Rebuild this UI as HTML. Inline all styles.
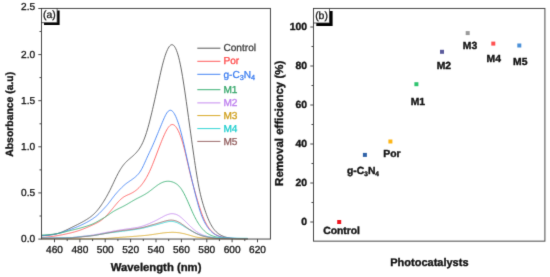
<!DOCTYPE html>
<html lang="en"><head><meta charset="utf-8"><title>UV-vis absorbance and removal efficiency</title>
<style>html,body{margin:0;padding:0;background:#fff}body{width:550px;height:277px;overflow:hidden}svg{display:block}text{font-family:"Liberation Sans",Arial,Helvetica,sans-serif;fill:#141414;text-rendering:geometricPrecision}.t{font-size:10.15px;stroke:#141414;stroke-width:.3px}.tb{font-size:10.35px;font-weight:bold;stroke:#141414;stroke-width:.4px}.ttl{font-size:11px;font-weight:bold;stroke:#141414;stroke-width:.35px}.ax{stroke:#484848;stroke-width:1;fill:none}.cv{fill:none;stroke-width:.9;stroke-linejoin:round}</style></head><body>
<svg width="550" height="277" viewBox="0 0 550 277">
<defs><filter id="soft" x="0" y="0" width="550" height="277" filterUnits="userSpaceOnUse" color-interpolation-filters="sRGB"><feConvolveMatrix order="3" kernelMatrix="0.0113 0.0838 0.0113 0.0838 0.6193 0.0838 0.0113 0.0838 0.0113" edgeMode="duplicate" preserveAlpha="true"/></filter></defs>
<g filter="url(#soft)">
<rect width="550" height="277" fill="#fff"/>
<g id="panel-a">
<clipPath id="ca"><rect x="41.5" y="8.45" width="228.95" height="231.1"/></clipPath>
<g clip-path="url(#ca)">
<path class="cv" stroke="#585858" d="M41.50,235.74 L42.25,235.70 L43.00,235.65 L43.75,235.60 L44.50,235.55 L45.25,235.49 L46.00,235.43 L46.75,235.36 L47.50,235.29 L48.25,235.21 L49.00,235.12 L49.75,235.02 L50.50,234.92 L51.25,234.81 L52.00,234.70 L52.75,234.57 L53.50,234.43 L54.25,234.29 L55.00,234.13 L55.75,233.96 L56.50,233.77 L57.25,233.57 L58.00,233.36 L58.75,233.13 L59.50,232.89 L60.25,232.62 L61.00,232.35 L61.75,232.06 L62.50,231.75 L63.25,231.43 L64.00,231.10 L64.75,230.76 L65.50,230.42 L66.25,230.06 L67.00,229.70 L67.75,229.33 L68.50,228.97 L69.25,228.60 L70.00,228.23 L70.75,227.86 L71.50,227.49 L72.25,227.12 L73.00,226.76 L73.75,226.39 L74.50,226.02 L75.25,225.65 L76.00,225.28 L76.75,224.91 L77.50,224.54 L78.25,224.16 L79.00,223.77 L79.75,223.39 L80.50,222.99 L81.25,222.59 L82.00,222.19 L82.75,221.78 L83.50,221.35 L84.25,220.93 L85.00,220.49 L85.75,220.04 L86.50,219.58 L87.25,219.11 L88.00,218.63 L88.75,218.13 L89.50,217.61 L90.25,217.07 L91.00,216.50 L91.75,215.91 L92.50,215.29 L93.25,214.63 L94.00,213.94 L94.75,213.21 L95.50,212.44 L96.25,211.62 L97.00,210.77 L97.75,209.87 L98.50,208.93 L99.25,207.95 L100.00,206.93 L100.75,205.87 L101.50,204.77 L102.25,203.64 L103.00,202.48 L103.75,201.29 L104.50,200.07 L105.25,198.82 L106.00,197.53 L106.75,196.22 L107.50,194.87 L108.25,193.48 L109.00,192.05 L109.75,190.58 L110.50,189.08 L111.25,187.54 L112.00,185.98 L112.75,184.39 L113.50,182.80 L114.25,181.20 L115.00,179.62 L115.75,178.06 L116.50,176.54 L117.25,175.05 L118.00,173.62 L118.75,172.23 L119.50,170.91 L120.25,169.65 L121.00,168.45 L121.75,167.32 L122.50,166.25 L123.25,165.24 L124.00,164.30 L124.75,163.41 L125.50,162.58 L126.25,161.80 L127.00,161.06 L127.75,160.37 L128.50,159.70 L129.25,159.06 L130.00,158.43 L130.75,157.81 L131.50,157.18 L132.25,156.54 L133.00,155.87 L133.75,155.18 L134.50,154.46 L135.25,153.71 L136.00,152.91 L136.75,152.07 L137.50,151.18 L138.25,150.22 L139.00,149.19 L139.75,148.06 L140.50,146.84 L141.25,145.52 L142.00,144.07 L142.75,142.50 L143.50,140.80 L144.25,138.95 L145.00,136.95 L145.75,134.81 L146.50,132.51 L147.25,130.06 L148.00,127.47 L148.75,124.75 L149.50,121.90 L150.25,118.95 L151.00,115.90 L151.75,112.78 L152.50,109.59 L153.25,106.35 L154.00,103.06 L154.75,99.72 L155.50,96.34 L156.25,92.92 L157.00,89.46 L157.75,85.97 L158.50,82.48 L159.25,78.99 L160.00,75.54 L160.75,72.18 L161.50,68.93 L162.25,65.83 L163.00,62.90 L163.75,60.16 L164.50,57.62 L165.25,55.30 L166.00,53.18 L166.75,51.27 L167.50,49.58 L168.25,48.12 L169.00,46.90 L169.75,45.93 L170.50,45.23 L171.25,44.82 L172.00,44.70 L172.75,44.88 L173.50,45.37 L174.25,46.16 L175.00,47.27 L175.75,48.69 L176.50,50.43 L177.25,52.49 L178.00,54.89 L178.75,57.63 L179.50,60.72 L180.25,64.16 L181.00,67.93 L181.75,72.03 L182.50,76.40 L183.25,81.04 L184.00,85.88 L184.75,90.91 L185.50,96.07 L186.25,101.35 L187.00,106.70 L187.75,112.10 L188.50,117.53 L189.25,122.98 L190.00,128.42 L190.75,133.84 L191.50,139.23 L192.25,144.60 L193.00,149.92 L193.75,155.18 L194.50,160.36 L195.25,165.42 L196.00,170.34 L196.75,175.07 L197.50,179.56 L198.25,183.78 L199.00,187.71 L199.75,191.34 L200.50,194.68 L201.25,197.75 L202.00,200.59 L202.75,203.24 L203.50,205.72 L204.25,208.09 L205.00,210.34 L205.75,212.50 L206.50,214.57 L207.25,216.54 L208.00,218.41 L208.75,220.18 L209.50,221.82 L210.25,223.35 L211.00,224.77 L211.75,226.07 L212.50,227.26 L213.25,228.35 L214.00,229.35 L214.75,230.25 L215.50,231.08 L216.25,231.83 L217.00,232.51 L217.75,233.13 L218.50,233.70 L219.25,234.22 L220.00,234.69 L220.75,235.12 L221.50,235.51 L222.25,235.86 L223.00,236.19 L223.75,236.48 L224.50,236.75 L225.25,236.99 L226.00,237.21 L226.75,237.40 L227.50,237.58 L228.25,237.73 L229.00,237.87 L229.75,237.99 L230.50,238.10 L231.25,238.20 L232.00,238.28 L232.75,238.35 L233.50,238.42 L234.25,238.48 L235.00,238.53 L235.75,238.57 L236.50,238.61 L237.25,238.65 L238.00,238.68 L238.75,238.71 L239.50,238.74 L240.25,238.76 L241.00,238.79 L241.75,238.81 L242.50,238.83 L243.25,238.85 L244.00,238.87 L244.75,238.88 L245.50,238.90 L246.25,238.91 L247.00,238.93 L247.75,238.94"/>
<path class="cv" stroke="#ff5c5c" d="M41.50,237.62 L42.25,237.55 L43.00,237.48 L43.75,237.41 L44.50,237.34 L45.25,237.26 L46.00,237.19 L46.75,237.11 L47.50,237.02 L48.25,236.94 L49.00,236.85 L49.75,236.75 L50.50,236.66 L51.25,236.56 L52.00,236.46 L52.75,236.35 L53.50,236.25 L54.25,236.14 L55.00,236.02 L55.75,235.91 L56.50,235.79 L57.25,235.66 L58.00,235.54 L58.75,235.41 L59.50,235.27 L60.25,235.14 L61.00,235.00 L61.75,234.85 L62.50,234.71 L63.25,234.56 L64.00,234.40 L64.75,234.25 L65.50,234.09 L66.25,233.93 L67.00,233.76 L67.75,233.59 L68.50,233.42 L69.25,233.25 L70.00,233.07 L70.75,232.89 L71.50,232.71 L72.25,232.52 L73.00,232.32 L73.75,232.13 L74.50,231.92 L75.25,231.71 L76.00,231.49 L76.75,231.26 L77.50,231.03 L78.25,230.79 L79.00,230.54 L79.75,230.29 L80.50,230.02 L81.25,229.75 L82.00,229.47 L82.75,229.18 L83.50,228.88 L84.25,228.58 L85.00,228.28 L85.75,227.96 L86.50,227.64 L87.25,227.32 L88.00,227.00 L88.75,226.67 L89.50,226.33 L90.25,226.00 L91.00,225.66 L91.75,225.33 L92.50,224.99 L93.25,224.64 L94.00,224.29 L94.75,223.94 L95.50,223.58 L96.25,223.22 L97.00,222.84 L97.75,222.44 L98.50,222.02 L99.25,221.57 L100.00,221.10 L100.75,220.59 L101.50,220.05 L102.25,219.47 L103.00,218.86 L103.75,218.21 L104.50,217.53 L105.25,216.81 L106.00,216.07 L106.75,215.30 L107.50,214.50 L108.25,213.68 L109.00,212.83 L109.75,211.97 L110.50,211.09 L111.25,210.19 L112.00,209.28 L112.75,208.36 L113.50,207.44 L114.25,206.52 L115.00,205.61 L115.75,204.70 L116.50,203.81 L117.25,202.94 L118.00,202.09 L118.75,201.28 L119.50,200.50 L120.25,199.77 L121.00,199.08 L121.75,198.44 L122.50,197.85 L123.25,197.31 L124.00,196.81 L124.75,196.37 L125.50,195.96 L126.25,195.58 L127.00,195.23 L127.75,194.90 L128.50,194.58 L129.25,194.25 L130.00,193.92 L130.75,193.57 L131.50,193.20 L132.25,192.80 L133.00,192.37 L133.75,191.91 L134.50,191.41 L135.25,190.88 L136.00,190.31 L136.75,189.71 L137.50,189.07 L138.25,188.39 L139.00,187.67 L139.75,186.90 L140.50,186.08 L141.25,185.20 L142.00,184.27 L142.75,183.28 L143.50,182.24 L144.25,181.13 L145.00,179.96 L145.75,178.73 L146.50,177.44 L147.25,176.08 L148.00,174.65 L148.75,173.15 L149.50,171.58 L150.25,169.95 L151.00,168.24 L151.75,166.47 L152.50,164.64 L153.25,162.77 L154.00,160.85 L154.75,158.90 L155.50,156.94 L156.25,154.96 L157.00,152.99 L157.75,151.01 L158.50,149.05 L159.25,147.10 L160.00,145.17 L160.75,143.26 L161.50,141.39 L162.25,139.54 L163.00,137.75 L163.75,136.01 L164.50,134.34 L165.25,132.75 L166.00,131.26 L166.75,129.88 L167.50,128.62 L168.25,127.51 L169.00,126.54 L169.75,125.75 L170.50,125.15 L171.25,124.74 L172.00,124.53 L172.75,124.54 L173.50,124.76 L174.25,125.19 L175.00,125.83 L175.75,126.66 L176.50,127.69 L177.25,128.89 L178.00,130.27 L178.75,131.83 L179.50,133.55 L180.25,135.44 L181.00,137.51 L181.75,139.75 L182.50,142.18 L183.25,144.78 L184.00,147.56 L184.75,150.49 L185.50,153.57 L186.25,156.76 L187.00,160.02 L187.75,163.31 L188.50,166.58 L189.25,169.81 L190.00,172.95 L190.75,176.01 L191.50,178.98 L192.25,181.85 L193.00,184.66 L193.75,187.40 L194.50,190.10 L195.25,192.76 L196.00,195.38 L196.75,197.96 L197.50,200.49 L198.25,202.98 L199.00,205.41 L199.75,207.76 L200.50,210.04 L201.25,212.21 L202.00,214.28 L202.75,216.23 L203.50,218.07 L204.25,219.79 L205.00,221.38 L205.75,222.87 L206.50,224.25 L207.25,225.53 L208.00,226.72 L208.75,227.82 L209.50,228.84 L210.25,229.78 L211.00,230.64 L211.75,231.44 L212.50,232.16 L213.25,232.82 L214.00,233.43 L214.75,233.97 L215.50,234.47 L216.25,234.92 L217.00,235.32 L217.75,235.68 L218.50,236.01 L219.25,236.31 L220.00,236.57 L220.75,236.81 L221.50,237.02 L222.25,237.21 L223.00,237.38 L223.75,237.54 L224.50,237.68 L225.25,237.81 L226.00,237.92 L226.75,238.02 L227.50,238.11 L228.25,238.20 L229.00,238.27 L229.75,238.34 L230.50,238.40 L231.25,238.45 L232.00,238.50 L232.75,238.54 L233.50,238.58 L234.25,238.61 L235.00,238.64 L235.75,238.67 L236.50,238.69 L237.25,238.71 L238.00,238.73 L238.75,238.75 L239.50,238.77 L240.25,238.78 L241.00,238.80 L241.75,238.81 L242.50,238.82 L243.25,238.83 L244.00,238.84 L244.75,238.85 L245.50,238.86 L246.25,238.87 L247.00,238.88 L247.75,238.88"/>
<path class="cv" stroke="#4585f5" d="M41.50,235.66 L42.25,235.61 L43.00,235.57 L43.75,235.52 L44.50,235.47 L45.25,235.42 L46.00,235.36 L46.75,235.30 L47.50,235.23 L48.25,235.16 L49.00,235.08 L49.75,234.99 L50.50,234.90 L51.25,234.80 L52.00,234.69 L52.75,234.58 L53.50,234.46 L54.25,234.33 L55.00,234.19 L55.75,234.05 L56.50,233.89 L57.25,233.73 L58.00,233.55 L58.75,233.36 L59.50,233.17 L60.25,232.96 L61.00,232.74 L61.75,232.51 L62.50,232.27 L63.25,232.02 L64.00,231.76 L64.75,231.50 L65.50,231.23 L66.25,230.96 L67.00,230.69 L67.75,230.42 L68.50,230.14 L69.25,229.86 L70.00,229.59 L70.75,229.31 L71.50,229.03 L72.25,228.75 L73.00,228.47 L73.75,228.18 L74.50,227.89 L75.25,227.60 L76.00,227.31 L76.75,227.01 L77.50,226.70 L78.25,226.39 L79.00,226.07 L79.75,225.74 L80.50,225.41 L81.25,225.07 L82.00,224.72 L82.75,224.36 L83.50,224.00 L84.25,223.62 L85.00,223.24 L85.75,222.85 L86.50,222.46 L87.25,222.05 L88.00,221.63 L88.75,221.21 L89.50,220.77 L90.25,220.33 L91.00,219.87 L91.75,219.39 L92.50,218.90 L93.25,218.40 L94.00,217.87 L94.75,217.33 L95.50,216.75 L96.25,216.16 L97.00,215.53 L97.75,214.86 L98.50,214.17 L99.25,213.45 L100.00,212.70 L100.75,211.94 L101.50,211.16 L102.25,210.38 L103.00,209.59 L103.75,208.80 L104.50,208.01 L105.25,207.20 L106.00,206.38 L106.75,205.53 L107.50,204.65 L108.25,203.73 L109.00,202.78 L109.75,201.79 L110.50,200.79 L111.25,199.77 L112.00,198.76 L112.75,197.76 L113.50,196.77 L114.25,195.81 L115.00,194.88 L115.75,193.98 L116.50,193.10 L117.25,192.25 L118.00,191.41 L118.75,190.60 L119.50,189.79 L120.25,189.01 L121.00,188.24 L121.75,187.49 L122.50,186.76 L123.25,186.06 L124.00,185.38 L124.75,184.74 L125.50,184.12 L126.25,183.53 L127.00,182.97 L127.75,182.43 L128.50,181.91 L129.25,181.40 L130.00,180.89 L130.75,180.39 L131.50,179.87 L132.25,179.34 L133.00,178.79 L133.75,178.22 L134.50,177.63 L135.25,177.01 L136.00,176.35 L136.75,175.66 L137.50,174.91 L138.25,174.10 L139.00,173.20 L139.75,172.21 L140.50,171.09 L141.25,169.85 L142.00,168.49 L142.75,167.01 L143.50,165.44 L144.25,163.80 L145.00,162.12 L145.75,160.43 L146.50,158.75 L147.25,157.10 L148.00,155.48 L148.75,153.88 L149.50,152.30 L150.25,150.72 L151.00,149.13 L151.75,147.51 L152.50,145.86 L153.25,144.17 L154.00,142.43 L154.75,140.66 L155.50,138.86 L156.25,137.04 L157.00,135.22 L157.75,133.40 L158.50,131.59 L159.25,129.78 L160.00,127.98 L160.75,126.17 L161.50,124.36 L162.25,122.55 L163.00,120.76 L163.75,119.01 L164.50,117.33 L165.25,115.75 L166.00,114.32 L166.75,113.07 L167.50,112.03 L168.25,111.22 L169.00,110.64 L169.75,110.32 L170.50,110.25 L171.25,110.43 L172.00,110.87 L172.75,111.54 L173.50,112.46 L174.25,113.61 L175.00,114.97 L175.75,116.53 L176.50,118.27 L177.25,120.19 L178.00,122.27 L178.75,124.51 L179.50,126.92 L180.25,129.49 L181.00,132.24 L181.75,135.15 L182.50,138.23 L183.25,141.44 L184.00,144.77 L184.75,148.17 L185.50,151.61 L186.25,155.06 L187.00,158.50 L187.75,161.89 L188.50,165.25 L189.25,168.55 L190.00,171.82 L190.75,175.05 L191.50,178.25 L192.25,181.42 L193.00,184.57 L193.75,187.68 L194.50,190.77 L195.25,193.81 L196.00,196.80 L196.75,199.70 L197.50,202.51 L198.25,205.21 L199.00,207.78 L199.75,210.20 L200.50,212.47 L201.25,214.59 L202.00,216.55 L202.75,218.36 L203.50,220.04 L204.25,221.59 L205.00,223.03 L205.75,224.36 L206.50,225.59 L207.25,226.74 L208.00,227.80 L208.75,228.79 L209.50,229.70 L210.25,230.54 L211.00,231.31 L211.75,232.02 L212.50,232.66 L213.25,233.25 L214.00,233.78 L214.75,234.26 L215.50,234.70 L216.25,235.09 L217.00,235.45 L217.75,235.77 L218.50,236.05 L219.25,236.31 L220.00,236.54 L220.75,236.75 L221.50,236.94 L222.25,237.10 L223.00,237.25 L223.75,237.39 L224.50,237.51 L225.25,237.62 L226.00,237.71 L226.75,237.80 L227.50,237.88 L228.25,237.95 L229.00,238.02 L229.75,238.07 L230.50,238.13 L231.25,238.17 L232.00,238.21 L232.75,238.25 L233.50,238.28 L234.25,238.31 L235.00,238.34 L235.75,238.37 L236.50,238.39 L237.25,238.41 L238.00,238.43 L238.75,238.45 L239.50,238.47 L240.25,238.48 L241.00,238.50 L241.75,238.51 L242.50,238.53 L243.25,238.54 L244.00,238.55 L244.75,238.56 L245.50,238.57 L246.25,238.58 L247.00,238.59 L247.75,238.60"/>
<path class="cv" stroke="#3bb074" d="M41.50,235.07 L42.25,235.04 L43.00,235.00 L43.75,234.96 L44.50,234.93 L45.25,234.89 L46.00,234.84 L46.75,234.80 L47.50,234.75 L48.25,234.70 L49.00,234.64 L49.75,234.57 L50.50,234.50 L51.25,234.43 L52.00,234.35 L52.75,234.26 L53.50,234.17 L54.25,234.08 L55.00,233.97 L55.75,233.86 L56.50,233.75 L57.25,233.62 L58.00,233.49 L58.75,233.35 L59.50,233.20 L60.25,233.04 L61.00,232.87 L61.75,232.69 L62.50,232.51 L63.25,232.32 L64.00,232.13 L64.75,231.94 L65.50,231.75 L66.25,231.55 L67.00,231.36 L67.75,231.17 L68.50,230.98 L69.25,230.79 L70.00,230.61 L70.75,230.43 L71.50,230.25 L72.25,230.07 L73.00,229.89 L73.75,229.71 L74.50,229.53 L75.25,229.35 L76.00,229.17 L76.75,228.98 L77.50,228.79 L78.25,228.59 L79.00,228.39 L79.75,228.19 L80.50,227.99 L81.25,227.78 L82.00,227.56 L82.75,227.35 L83.50,227.13 L84.25,226.90 L85.00,226.68 L85.75,226.44 L86.50,226.21 L87.25,225.97 L88.00,225.72 L88.75,225.47 L89.50,225.20 L90.25,224.93 L91.00,224.65 L91.75,224.35 L92.50,224.04 L93.25,223.71 L94.00,223.36 L94.75,222.99 L95.50,222.60 L96.25,222.19 L97.00,221.77 L97.75,221.35 L98.50,220.92 L99.25,220.49 L100.00,220.07 L100.75,219.65 L101.50,219.23 L102.25,218.81 L103.00,218.39 L103.75,217.96 L104.50,217.51 L105.25,217.04 L106.00,216.56 L106.75,216.05 L107.50,215.53 L108.25,215.00 L109.00,214.47 L109.75,213.93 L110.50,213.40 L111.25,212.88 L112.00,212.37 L112.75,211.88 L113.50,211.41 L114.25,210.96 L115.00,210.52 L115.75,210.11 L116.50,209.71 L117.25,209.32 L118.00,208.94 L118.75,208.57 L119.50,208.20 L120.25,207.84 L121.00,207.47 L121.75,207.10 L122.50,206.73 L123.25,206.35 L124.00,205.95 L124.75,205.55 L125.50,205.14 L126.25,204.72 L127.00,204.29 L127.75,203.85 L128.50,203.40 L129.25,202.95 L130.00,202.50 L130.75,202.05 L131.50,201.60 L132.25,201.16 L133.00,200.72 L133.75,200.29 L134.50,199.86 L135.25,199.45 L136.00,199.05 L136.75,198.65 L137.50,198.26 L138.25,197.88 L139.00,197.50 L139.75,197.12 L140.50,196.75 L141.25,196.37 L142.00,195.98 L142.75,195.58 L143.50,195.18 L144.25,194.75 L145.00,194.32 L145.75,193.86 L146.50,193.39 L147.25,192.90 L148.00,192.39 L148.75,191.86 L149.50,191.31 L150.25,190.75 L151.00,190.17 L151.75,189.59 L152.50,189.00 L153.25,188.40 L154.00,187.81 L154.75,187.22 L155.50,186.65 L156.25,186.08 L157.00,185.54 L157.75,185.02 L158.50,184.52 L159.25,184.04 L160.00,183.60 L160.75,183.19 L161.50,182.82 L162.25,182.48 L163.00,182.18 L163.75,181.92 L164.50,181.70 L165.25,181.52 L166.00,181.39 L166.75,181.30 L167.50,181.25 L168.25,181.24 L169.00,181.28 L169.75,181.35 L170.50,181.47 L171.25,181.63 L172.00,181.82 L172.75,182.07 L173.50,182.35 L174.25,182.68 L175.00,183.06 L175.75,183.49 L176.50,183.98 L177.25,184.53 L178.00,185.16 L178.75,185.87 L179.50,186.68 L180.25,187.57 L181.00,188.57 L181.75,189.66 L182.50,190.86 L183.25,192.15 L184.00,193.53 L184.75,194.99 L185.50,196.52 L186.25,198.10 L187.00,199.74 L187.75,201.42 L188.50,203.12 L189.25,204.84 L190.00,206.56 L190.75,208.29 L191.50,209.99 L192.25,211.67 L193.00,213.31 L193.75,214.90 L194.50,216.44 L195.25,217.92 L196.00,219.34 L196.75,220.70 L197.50,221.98 L198.25,223.21 L199.00,224.37 L199.75,225.47 L200.50,226.51 L201.25,227.49 L202.00,228.41 L202.75,229.27 L203.50,230.07 L204.25,230.82 L205.00,231.52 L205.75,232.16 L206.50,232.75 L207.25,233.29 L208.00,233.79 L208.75,234.24 L209.50,234.64 L210.25,235.01 L211.00,235.35 L211.75,235.65 L212.50,235.92 L213.25,236.17 L214.00,236.40 L214.75,236.60 L215.50,236.79 L216.25,236.96 L217.00,237.12 L217.75,237.27 L218.50,237.40 L219.25,237.53 L220.00,237.64 L220.75,237.75 L221.50,237.85 L222.25,237.95 L223.00,238.03 L223.75,238.11 L224.50,238.19 L225.25,238.25 L226.00,238.31 L226.75,238.37 L227.50,238.42 L228.25,238.47 L229.00,238.51 L229.75,238.55 L230.50,238.59 L231.25,238.62 L232.00,238.65 L232.75,238.68 L233.50,238.71 L234.25,238.73 L235.00,238.76 L235.75,238.78 L236.50,238.80 L237.25,238.81 L238.00,238.83 L238.75,238.84 L239.50,238.85 L240.25,238.86 L241.00,238.87 L241.75,238.88 L242.50,238.89 L243.25,238.89 L244.00,238.90 L244.75,238.90 L245.50,238.90 L246.25,238.91 L247.00,238.91 L247.75,238.91"/>
<path class="cv" stroke="#c68cf0" d="M41.5,238.0 L42.5,238.0 L43.5,238.0 L44.5,238.0 L45.5,238.0 L46.5,238.0 L47.5,238.0 L48.5,238.0 L49.5,238.0 L50.5,238.0 L51.5,238.0 L52.5,238.0 L53.5,237.9 L54.5,237.9 L55.5,237.9 L56.5,237.9 L57.5,237.9 L58.5,237.9 L59.5,237.9 L60.5,237.9 L61.5,237.9 L62.5,237.8 L63.5,237.8 L64.5,237.8 L65.5,237.8 L66.5,237.8 L67.5,237.7 L68.5,237.7 L69.5,237.7 L70.5,237.6 L71.5,237.6 L72.5,237.5 L73.5,237.4 L74.5,237.3 L75.5,237.2 L76.5,237.1 L77.5,236.9 L78.5,236.8 L79.5,236.7 L80.5,236.6 L81.5,236.4 L82.5,236.3 L83.5,236.2 L84.5,236.1 L85.5,236.0 L86.5,235.9 L87.5,235.8 L88.5,235.6 L89.5,235.5 L90.5,235.4 L91.5,235.2 L92.5,235.1 L93.5,234.9 L94.5,234.8 L95.5,234.6 L96.5,234.4 L97.5,234.2 L98.5,234.0 L99.5,233.8 L100.5,233.6 L101.5,233.4 L102.5,233.2 L103.5,233.0 L104.5,232.8 L105.5,232.6 L106.5,232.4 L107.5,232.2 L108.5,232.0 L109.5,231.9 L110.5,231.7 L111.5,231.5 L112.5,231.3 L113.5,231.1 L114.5,230.9 L115.5,230.8 L116.5,230.6 L117.5,230.4 L118.5,230.3 L119.5,230.1 L120.5,229.9 L121.5,229.8 L122.5,229.6 L123.5,229.5 L124.5,229.3 L125.5,229.2 L126.5,229.0 L127.5,228.9 L128.5,228.8 L129.5,228.6 L130.5,228.5 L131.5,228.3 L132.5,228.2 L133.5,228.0 L134.5,227.9 L135.5,227.7 L136.5,227.5 L137.5,227.4 L138.5,227.2 L139.5,226.9 L140.5,226.7 L141.5,226.4 L142.5,226.1 L143.5,225.8 L144.5,225.4 L145.5,225.1 L146.5,224.7 L147.5,224.3 L148.5,223.9 L149.5,223.5 L150.5,223.0 L151.5,222.6 L152.5,222.1 L153.5,221.7 L154.5,221.2 L155.5,220.7 L156.5,220.2 L157.5,219.7 L158.5,219.1 L159.5,218.6 L160.5,218.0 L161.5,217.5 L162.5,217.0 L163.5,216.4 L164.5,215.9 L165.5,215.4 L166.5,215.0 L167.5,214.6 L168.5,214.3 L169.5,214.0 L170.5,213.8 L171.5,213.7 L172.5,213.7 L173.5,213.8 L174.5,214.0 L175.5,214.2 L176.5,214.6 L177.5,215.0 L178.5,215.6 L179.5,216.2 L180.5,217.0 L181.5,217.8 L182.5,218.7 L183.5,219.6 L184.5,220.5 L185.5,221.5 L186.5,222.5 L187.5,223.5 L188.5,224.5 L189.5,225.5 L190.5,226.5 L191.5,227.4 L192.5,228.3 L193.5,229.2 L194.5,230.0 L195.5,230.8 L196.5,231.5 L197.5,232.2 L198.5,232.8 L199.5,233.4 L200.5,233.9 L201.5,234.4 L202.5,234.9 L203.5,235.3 L204.5,235.6 L205.5,235.9 L206.5,236.2 L207.5,236.5 L208.5,236.8 L209.5,237.0 L210.5,237.2 L211.5,237.4 L212.5,237.5 L213.5,237.7 L214.5,237.8 L215.5,238.0 L216.5,238.1 L217.5,238.2 L218.5,238.2 L219.5,238.3 L220.5,238.3 L221.5,238.4 L222.5,238.4 L223.5,238.4 L224.5,238.4 L225.5,238.5 L226.5,238.5 L227.5,238.5 L228.5,238.5 L229.5,238.5 L230.5,238.6 L231.5,238.6 L232.5,238.6 L233.5,238.6 L234.5,238.6 L235.5,238.6 L236.5,238.6 L237.5,238.6 L238.5,238.7 L239.5,238.7 L240.5,238.7 L241.5,238.7 L242.5,238.7 L243.5,238.7 L244.5,238.7 L245.5,238.7 L246.5,238.7 L247.5,238.7"/>
<path class="cv" stroke="#d9a926" d="M41.5,238.9 L42.5,238.9 L43.5,238.9 L44.5,238.9 L45.5,238.9 L46.5,238.9 L47.5,238.9 L48.5,238.9 L49.5,238.9 L50.5,238.9 L51.5,238.9 L52.5,238.9 L53.5,238.9 L54.5,238.9 L55.5,238.9 L56.5,238.9 L57.5,238.9 L58.5,238.9 L59.5,238.9 L60.5,238.9 L61.5,238.9 L62.5,238.9 L63.5,238.9 L64.5,238.9 L65.5,238.9 L66.5,238.9 L67.5,238.9 L68.5,238.9 L69.5,238.9 L70.5,238.9 L71.5,238.9 L72.5,238.9 L73.5,238.9 L74.5,238.9 L75.5,238.9 L76.5,238.9 L77.5,238.9 L78.5,238.9 L79.5,238.9 L80.5,238.9 L81.5,238.9 L82.5,238.9 L83.5,238.9 L84.5,238.9 L85.5,238.9 L86.5,238.9 L87.5,238.9 L88.5,238.9 L89.5,238.9 L90.5,238.8 L91.5,238.8 L92.5,238.8 L93.5,238.8 L94.5,238.8 L95.5,238.8 L96.5,238.7 L97.5,238.7 L98.5,238.7 L99.5,238.7 L100.5,238.6 L101.5,238.6 L102.5,238.6 L103.5,238.6 L104.5,238.5 L105.5,238.5 L106.5,238.4 L107.5,238.4 L108.5,238.3 L109.5,238.2 L110.5,238.2 L111.5,238.1 L112.5,238.0 L113.5,237.9 L114.5,237.8 L115.5,237.7 L116.5,237.6 L117.5,237.6 L118.5,237.5 L119.5,237.4 L120.5,237.3 L121.5,237.3 L122.5,237.2 L123.5,237.1 L124.5,237.1 L125.5,237.0 L126.5,236.9 L127.5,236.8 L128.5,236.8 L129.5,236.7 L130.5,236.6 L131.5,236.6 L132.5,236.5 L133.5,236.4 L134.5,236.3 L135.5,236.3 L136.5,236.2 L137.5,236.1 L138.5,236.0 L139.5,235.9 L140.5,235.9 L141.5,235.8 L142.5,235.7 L143.5,235.6 L144.5,235.5 L145.5,235.4 L146.5,235.3 L147.5,235.2 L148.5,235.1 L149.5,234.9 L150.5,234.8 L151.5,234.7 L152.5,234.5 L153.5,234.4 L154.5,234.2 L155.5,234.1 L156.5,233.9 L157.5,233.8 L158.5,233.6 L159.5,233.5 L160.5,233.3 L161.5,233.2 L162.5,233.0 L163.5,232.9 L164.5,232.8 L165.5,232.7 L166.5,232.6 L167.5,232.5 L168.5,232.5 L169.5,232.4 L170.5,232.4 L171.5,232.3 L172.5,232.3 L173.5,232.3 L174.5,232.4 L175.5,232.4 L176.5,232.5 L177.5,232.6 L178.5,232.7 L179.5,232.8 L180.5,233.0 L181.5,233.2 L182.5,233.4 L183.5,233.6 L184.5,233.8 L185.5,234.1 L186.5,234.4 L187.5,234.6 L188.5,234.9 L189.5,235.2 L190.5,235.5 L191.5,235.8 L192.5,236.1 L193.5,236.4 L194.5,236.6 L195.5,236.9 L196.5,237.1 L197.5,237.3 L198.5,237.4 L199.5,237.6 L200.5,237.7 L201.5,237.8 L202.5,237.9 L203.5,238.0 L204.5,238.1 L205.5,238.2 L206.5,238.3 L207.5,238.3 L208.5,238.4 L209.5,238.4 L210.5,238.5 L211.5,238.5 L212.5,238.6 L213.5,238.6 L214.5,238.6 L215.5,238.6 L216.5,238.7 L217.5,238.7 L218.5,238.7 L219.5,238.7 L220.5,238.7 L221.5,238.7 L222.5,238.7 L223.5,238.8 L224.5,238.8 L225.5,238.8 L226.5,238.8 L227.5,238.8 L228.5,238.8 L229.5,238.8 L230.5,238.8 L231.5,238.8 L232.5,238.8 L233.5,238.8 L234.5,238.9 L235.5,238.9 L236.5,238.9 L237.5,238.9 L238.5,238.9 L239.5,238.9 L240.5,238.9 L241.5,238.9 L242.5,238.9 L243.5,238.9 L244.5,238.9 L245.5,238.9 L246.5,238.9 L247.5,238.9"/>
<path class="cv" stroke="#35d6d6" d="M41.5,237.9 L42.5,237.9 L43.5,237.9 L44.5,237.9 L45.5,237.9 L46.5,237.9 L47.5,237.9 L48.5,237.9 L49.5,237.9 L50.5,237.9 L51.5,237.9 L52.5,237.9 L53.5,237.9 L54.5,237.9 L55.5,237.9 L56.5,237.8 L57.5,237.8 L58.5,237.8 L59.5,237.8 L60.5,237.8 L61.5,237.8 L62.5,237.8 L63.5,237.8 L64.5,237.8 L65.5,237.8 L66.5,237.7 L67.5,237.7 L68.5,237.7 L69.5,237.7 L70.5,237.6 L71.5,237.6 L72.5,237.5 L73.5,237.4 L74.5,237.3 L75.5,237.2 L76.5,237.1 L77.5,237.0 L78.5,236.9 L79.5,236.8 L80.5,236.7 L81.5,236.6 L82.5,236.5 L83.5,236.4 L84.5,236.3 L85.5,236.2 L86.5,236.2 L87.5,236.1 L88.5,236.0 L89.5,235.9 L90.5,235.8 L91.5,235.7 L92.5,235.6 L93.5,235.5 L94.5,235.3 L95.5,235.2 L96.5,235.0 L97.5,234.8 L98.5,234.7 L99.5,234.5 L100.5,234.3 L101.5,234.1 L102.5,233.9 L103.5,233.8 L104.5,233.6 L105.5,233.4 L106.5,233.3 L107.5,233.1 L108.5,233.0 L109.5,232.9 L110.5,232.7 L111.5,232.6 L112.5,232.5 L113.5,232.4 L114.5,232.3 L115.5,232.1 L116.5,232.0 L117.5,231.9 L118.5,231.8 L119.5,231.6 L120.5,231.5 L121.5,231.4 L122.5,231.2 L123.5,231.1 L124.5,231.0 L125.5,230.8 L126.5,230.7 L127.5,230.6 L128.5,230.4 L129.5,230.3 L130.5,230.2 L131.5,230.0 L132.5,229.9 L133.5,229.7 L134.5,229.6 L135.5,229.4 L136.5,229.3 L137.5,229.1 L138.5,228.9 L139.5,228.8 L140.5,228.6 L141.5,228.4 L142.5,228.2 L143.5,228.0 L144.5,227.7 L145.5,227.5 L146.5,227.2 L147.5,227.0 L148.5,226.7 L149.5,226.5 L150.5,226.2 L151.5,226.0 L152.5,225.7 L153.5,225.5 L154.5,225.2 L155.5,225.0 L156.5,224.7 L157.5,224.5 L158.5,224.2 L159.5,223.9 L160.5,223.6 L161.5,223.3 L162.5,223.1 L163.5,222.8 L164.5,222.5 L165.5,222.2 L166.5,222.0 L167.5,221.8 L168.5,221.6 L169.5,221.5 L170.5,221.4 L171.5,221.4 L172.5,221.5 L173.5,221.6 L174.5,221.8 L175.5,222.1 L176.5,222.4 L177.5,222.8 L178.5,223.3 L179.5,223.8 L180.5,224.3 L181.5,224.9 L182.5,225.5 L183.5,226.1 L184.5,226.7 L185.5,227.3 L186.5,227.9 L187.5,228.5 L188.5,229.1 L189.5,229.7 L190.5,230.3 L191.5,230.8 L192.5,231.4 L193.5,231.9 L194.5,232.4 L195.5,232.9 L196.5,233.4 L197.5,233.8 L198.5,234.2 L199.5,234.6 L200.5,235.0 L201.5,235.3 L202.5,235.6 L203.5,235.9 L204.5,236.1 L205.5,236.3 L206.5,236.5 L207.5,236.7 L208.5,236.9 L209.5,237.0 L210.5,237.2 L211.5,237.3 L212.5,237.4 L213.5,237.6 L214.5,237.7 L215.5,237.7 L216.5,237.8 L217.5,237.9 L218.5,237.9 L219.5,238.0 L220.5,238.0 L221.5,238.0 L222.5,238.1 L223.5,238.1 L224.5,238.1 L225.5,238.1 L226.5,238.1 L227.5,238.2 L228.5,238.2 L229.5,238.2 L230.5,238.2 L231.5,238.2 L232.5,238.2 L233.5,238.2 L234.5,238.2 L235.5,238.2 L236.5,238.3 L237.5,238.3 L238.5,238.3 L239.5,238.3 L240.5,238.3 L241.5,238.3 L242.5,238.3 L243.5,238.3 L244.5,238.3 L245.5,238.3 L246.5,238.3 L247.5,238.3"/>
<path class="cv" stroke="#9c6b6b" d="M41.5,238.3 L42.5,238.3 L43.5,238.3 L44.5,238.3 L45.5,238.3 L46.5,238.3 L47.5,238.3 L48.5,238.3 L49.5,238.3 L50.5,238.3 L51.5,238.3 L52.5,238.3 L53.5,238.3 L54.5,238.3 L55.5,238.3 L56.5,238.2 L57.5,238.2 L58.5,238.2 L59.5,238.2 L60.5,238.2 L61.5,238.2 L62.5,238.2 L63.5,238.2 L64.5,238.2 L65.5,238.2 L66.5,238.1 L67.5,238.1 L68.5,238.1 L69.5,238.1 L70.5,238.0 L71.5,238.0 L72.5,237.9 L73.5,237.8 L74.5,237.7 L75.5,237.6 L76.5,237.5 L77.5,237.4 L78.5,237.3 L79.5,237.2 L80.5,237.1 L81.5,237.0 L82.5,236.8 L83.5,236.7 L84.5,236.6 L85.5,236.5 L86.5,236.4 L87.5,236.3 L88.5,236.2 L89.5,236.1 L90.5,236.0 L91.5,235.8 L92.5,235.7 L93.5,235.6 L94.5,235.4 L95.5,235.2 L96.5,235.1 L97.5,234.9 L98.5,234.7 L99.5,234.5 L100.5,234.3 L101.5,234.2 L102.5,234.0 L103.5,233.8 L104.5,233.6 L105.5,233.4 L106.5,233.2 L107.5,233.0 L108.5,232.8 L109.5,232.6 L110.5,232.5 L111.5,232.3 L112.5,232.1 L113.5,231.9 L114.5,231.7 L115.5,231.6 L116.5,231.4 L117.5,231.2 L118.5,231.1 L119.5,230.9 L120.5,230.8 L121.5,230.7 L122.5,230.5 L123.5,230.4 L124.5,230.3 L125.5,230.2 L126.5,230.1 L127.5,229.9 L128.5,229.8 L129.5,229.7 L130.5,229.5 L131.5,229.4 L132.5,229.3 L133.5,229.1 L134.5,229.0 L135.5,228.8 L136.5,228.6 L137.5,228.5 L138.5,228.3 L139.5,228.1 L140.5,227.9 L141.5,227.7 L142.5,227.5 L143.5,227.3 L144.5,227.0 L145.5,226.7 L146.5,226.5 L147.5,226.2 L148.5,225.9 L149.5,225.6 L150.5,225.3 L151.5,225.0 L152.5,224.7 L153.5,224.5 L154.5,224.2 L155.5,223.9 L156.5,223.6 L157.5,223.3 L158.5,223.0 L159.5,222.7 L160.5,222.4 L161.5,222.1 L162.5,221.8 L163.5,221.5 L164.5,221.2 L165.5,221.0 L166.5,220.7 L167.5,220.5 L168.5,220.3 L169.5,220.2 L170.5,220.1 L171.5,220.1 L172.5,220.2 L173.5,220.3 L174.5,220.5 L175.5,220.8 L176.5,221.1 L177.5,221.5 L178.5,222.0 L179.5,222.5 L180.5,223.1 L181.5,223.8 L182.5,224.5 L183.5,225.2 L184.5,225.9 L185.5,226.6 L186.5,227.4 L187.5,228.1 L188.5,228.8 L189.5,229.5 L190.5,230.1 L191.5,230.8 L192.5,231.4 L193.5,232.0 L194.5,232.6 L195.5,233.1 L196.5,233.6 L197.5,234.1 L198.5,234.5 L199.5,234.9 L200.5,235.3 L201.5,235.7 L202.5,236.0 L203.5,236.3 L204.5,236.5 L205.5,236.8 L206.5,237.0 L207.5,237.2 L208.5,237.4 L209.5,237.5 L210.5,237.7 L211.5,237.8 L212.5,238.0 L213.5,238.1 L214.5,238.2 L215.5,238.3 L216.5,238.4 L217.5,238.5 L218.5,238.5 L219.5,238.6 L220.5,238.6 L221.5,238.6 L222.5,238.7 L223.5,238.7 L224.5,238.7 L225.5,238.7 L226.5,238.7 L227.5,238.8 L228.5,238.8 L229.5,238.8 L230.5,238.8 L231.5,238.8 L232.5,238.8 L233.5,238.8 L234.5,238.8 L235.5,238.8 L236.5,238.9 L237.5,238.9 L238.5,238.9 L239.5,238.9 L240.5,238.9 L241.5,238.9 L242.5,238.9 L243.5,238.9 L244.5,238.9 L245.5,238.9 L246.5,238.9 L247.5,238.9"/>
</g>
<rect class="ax" x="41.5" y="8.45" width="228.95" height="230.60000000000002"/>
<line class="ax" x1="38.3" y1="239.1" x2="41.5" y2="239.1"/>
<text class="t" transform="translate(35.2 242.35) scale(1.0 1)" text-anchor="end">0.0</text>
<line class="ax" x1="39.5" y1="216.0" x2="41.5" y2="216.0"/>
<line class="ax" x1="38.3" y1="192.9" x2="41.5" y2="192.9"/>
<text class="t" transform="translate(35.2 196.23) scale(1.0 1)" text-anchor="end">0.5</text>
<line class="ax" x1="39.5" y1="169.9" x2="41.5" y2="169.9"/>
<line class="ax" x1="38.3" y1="146.8" x2="41.5" y2="146.8"/>
<text class="t" transform="translate(35.2 150.11) scale(1.0 1)" text-anchor="end">1.0</text>
<line class="ax" x1="39.5" y1="123.8" x2="41.5" y2="123.8"/>
<line class="ax" x1="38.3" y1="100.7" x2="41.5" y2="100.7"/>
<text class="t" transform="translate(35.2 103.99) scale(1.0 1)" text-anchor="end">1.5</text>
<line class="ax" x1="39.5" y1="77.6" x2="41.5" y2="77.6"/>
<line class="ax" x1="38.3" y1="54.6" x2="41.5" y2="54.6"/>
<text class="t" transform="translate(35.2 57.87) scale(1.0 1)" text-anchor="end">2.0</text>
<line class="ax" x1="39.5" y1="31.5" x2="41.5" y2="31.5"/>
<line class="ax" x1="38.3" y1="8.5" x2="41.5" y2="8.5"/>
<text class="t" transform="translate(35.2 10.15) scale(1.0 1)" text-anchor="end">2.5</text>
<line class="ax" x1="54.5" y1="239.05" x2="54.5" y2="242.25"/>
<text class="t" transform="translate(54.5 252.9) scale(1.0 1)" text-anchor="middle">460</text>
<line class="ax" x1="79.9" y1="239.05" x2="79.9" y2="242.25"/>
<text class="t" transform="translate(79.9 252.9) scale(1.0 1)" text-anchor="middle">480</text>
<line class="ax" x1="105.2" y1="239.05" x2="105.2" y2="242.25"/>
<text class="t" transform="translate(105.2 252.9) scale(1.0 1)" text-anchor="middle">500</text>
<line class="ax" x1="130.6" y1="239.05" x2="130.6" y2="242.25"/>
<text class="t" transform="translate(130.6 252.9) scale(1.0 1)" text-anchor="middle">520</text>
<line class="ax" x1="156.0" y1="239.05" x2="156.0" y2="242.25"/>
<text class="t" transform="translate(156.0 252.9) scale(1.0 1)" text-anchor="middle">540</text>
<line class="ax" x1="181.4" y1="239.05" x2="181.4" y2="242.25"/>
<text class="t" transform="translate(181.4 252.9) scale(1.0 1)" text-anchor="middle">560</text>
<line class="ax" x1="206.8" y1="239.05" x2="206.8" y2="242.25"/>
<text class="t" transform="translate(206.8 252.9) scale(1.0 1)" text-anchor="middle">580</text>
<line class="ax" x1="232.1" y1="239.05" x2="232.1" y2="242.25"/>
<text class="t" transform="translate(232.1 252.9) scale(1.0 1)" text-anchor="middle">600</text>
<line class="ax" x1="257.5" y1="239.05" x2="257.5" y2="242.25"/>
<text class="t" transform="translate(257.5 252.9) scale(1.0 1)" text-anchor="middle">620</text>
<line class="ax" x1="67.2" y1="239.05" x2="67.2" y2="241.05"/>
<line class="ax" x1="92.6" y1="239.05" x2="92.6" y2="241.05"/>
<line class="ax" x1="117.9" y1="239.05" x2="117.9" y2="241.05"/>
<line class="ax" x1="143.3" y1="239.05" x2="143.3" y2="241.05"/>
<line class="ax" x1="168.7" y1="239.05" x2="168.7" y2="241.05"/>
<line class="ax" x1="194.1" y1="239.05" x2="194.1" y2="241.05"/>
<line class="ax" x1="219.4" y1="239.05" x2="219.4" y2="241.05"/>
<line class="ax" x1="244.8" y1="239.05" x2="244.8" y2="241.05"/>
<text class="ttl" style="font-size:11.3px" transform="translate(156.1 270.85) scale(1.0 1)" text-anchor="middle">Wavelength (nm)</text>
<text class="ttl" style="font-size:10.4px" transform="translate(12.9 114.3) rotate(-90) scale(1.0 1)" text-anchor="middle">Absorbance (a.u)</text>
<rect x="44" y="10.5" width="15.6" height="14.5" fill="#000"/>
<rect x="41.5" y="8.45" width="15.6" height="14.3" fill="#fff" stroke="#333" stroke-width="0.8"/>
<text class="t" style="font-size:10.4px" transform="translate(49.4 18.25) scale(1.0 1)" text-anchor="middle">(a)</text>
<line x1="197.3" y1="48.2" x2="220.4" y2="48.2" stroke="#585858" stroke-width="1"/>
<text class="t" transform="translate(223.4 51.35) scale(1.0 1)" style="fill:#404040;stroke:#404040">Control</text>
<line x1="197.3" y1="61.3" x2="220.4" y2="61.3" stroke="#ff5c5c" stroke-width="1"/>
<text class="t" transform="translate(223.4 64.45) scale(1.0 1)" style="fill:#ff4a4a;stroke:#ff4a4a">Por</text>
<line x1="197.3" y1="74.3" x2="220.4" y2="74.3" stroke="#4585f5" stroke-width="1"/>
<text class="t" transform="translate(223.4 77.90) scale(1.0 1)" style="fill:#3a7cf0;stroke:#3a7cf0">g-C<tspan dy="2.2" font-size="7.3">3</tspan><tspan dy="-2.2">N</tspan><tspan dy="2.2" font-size="7.3">4</tspan></text>
<line x1="197.3" y1="89.7" x2="220.4" y2="89.7" stroke="#3bb074" stroke-width="1"/>
<text class="t" transform="translate(223.4 92.85) scale(1.0 1)" style="fill:#38a86c;stroke:#38a86c">M1</text>
<line x1="197.3" y1="102.9" x2="220.4" y2="102.9" stroke="#c68cf0" stroke-width="1"/>
<text class="t" transform="translate(223.4 106.05) scale(1.0 1)" style="fill:#bd7fee;stroke:#bd7fee">M2</text>
<line x1="197.3" y1="115.6" x2="220.4" y2="115.6" stroke="#d9a926" stroke-width="1"/>
<text class="t" transform="translate(223.4 118.75) scale(1.0 1)" style="fill:#cf9f1c;stroke:#cf9f1c">M3</text>
<line x1="197.3" y1="128.6" x2="220.4" y2="128.6" stroke="#35d6d6" stroke-width="1"/>
<text class="t" transform="translate(223.4 131.75) scale(1.0 1)" style="fill:#22cfcf;stroke:#22cfcf">M4</text>
<line x1="197.3" y1="141.4" x2="220.4" y2="141.4" stroke="#9c6b6b" stroke-width="1"/>
<text class="t" transform="translate(223.4 144.55) scale(1.0 1)" style="fill:#946060;stroke:#946060">M5</text>
</g>
<g id="panel-b">
<rect class="ax" x="313.5" y="8.45" width="231.39999999999998" height="232.70000000000002"/>
<line class="ax" x1="310.3" y1="222.0" x2="313.5" y2="222.0"/>
<text class="tb" transform="translate(307 225.0) scale(1.0 1)" text-anchor="end">0</text>
<line class="ax" x1="310.3" y1="183.0" x2="313.5" y2="183.0"/>
<text class="tb" transform="translate(307 186.0) scale(1.0 1)" text-anchor="end">20</text>
<line class="ax" x1="310.3" y1="144.0" x2="313.5" y2="144.0"/>
<text class="tb" transform="translate(307 147.0) scale(1.0 1)" text-anchor="end">40</text>
<line class="ax" x1="310.3" y1="105.0" x2="313.5" y2="105.0"/>
<text class="tb" transform="translate(307 108.0) scale(1.0 1)" text-anchor="end">60</text>
<line class="ax" x1="310.3" y1="66.0" x2="313.5" y2="66.0"/>
<text class="tb" transform="translate(307 69.0) scale(1.0 1)" text-anchor="end">80</text>
<line class="ax" x1="310.3" y1="27.0" x2="313.5" y2="27.0"/>
<text class="tb" transform="translate(307 30.0) scale(1.0 1)" text-anchor="end">100</text>
<line class="ax" x1="311.5" y1="202.5" x2="313.5" y2="202.5"/>
<line class="ax" x1="311.5" y1="163.5" x2="313.5" y2="163.5"/>
<line class="ax" x1="311.5" y1="124.5" x2="313.5" y2="124.5"/>
<line class="ax" x1="311.5" y1="85.5" x2="313.5" y2="85.5"/>
<line class="ax" x1="311.5" y1="46.5" x2="313.5" y2="46.5"/>
<text class="ttl" style="font-size:11.5px" transform="translate(282.9 123.3) rotate(-90) scale(1.0 1)" text-anchor="middle">Removal efficiency (%)</text>
<text class="ttl" transform="translate(429.4 266.2) scale(1.0 1)" text-anchor="middle">Photocatalysts</text>
<rect x="316.3" y="11" width="16.3" height="15" fill="#000"/>
<rect x="313.5" y="8.5" width="16" height="14.5" fill="#fff" stroke="#333" stroke-width="0.8"/>
<text class="t" style="font-size:10.4px" transform="translate(321.5 18.6) scale(1.0 1)" text-anchor="middle">(b)</text>
<rect x="337.2" y="220.0" width="4" height="4" fill="#f0141e"/>
<text class="tb" transform="translate(341.6 233.5) scale(1.0 1)" text-anchor="middle">Control</text>
<rect x="362.9" y="152.9" width="4" height="4" fill="#2f62a8"/>
<text class="tb" transform="translate(363.0 174.1) scale(1.0 1)" text-anchor="middle">g-C<tspan dy="2.2" font-size="6.5">3</tspan><tspan dy="-2.2">N</tspan><tspan dy="2.2" font-size="6.5">4</tspan></text>
<rect x="388.4" y="139.5" width="4" height="4" fill="#fdb515"/>
<text class="tb" transform="translate(391.9 157.2) scale(1.0 1)" text-anchor="middle">Por</text>
<rect x="414.4" y="82.2" width="4" height="4" fill="#2dc46e"/>
<text class="tb" transform="translate(417.9 105.1) scale(1.0 1)" text-anchor="middle">M1</text>
<rect x="440.0" y="49.8" width="4" height="4" fill="#5a5a9c"/>
<text class="tb" transform="translate(443.9 69.2) scale(1.0 1)" text-anchor="middle">M2</text>
<rect x="465.7" y="31.1" width="4" height="4" fill="#9a9a9a"/>
<text class="tb" transform="translate(470.0 49.1) scale(1.0 1)" text-anchor="middle">M3</text>
<rect x="491.3" y="41.6" width="4" height="4" fill="#ff5050"/>
<text class="tb" transform="translate(493.7 61.8) scale(1.0 1)" text-anchor="middle">M4</text>
<rect x="517.3" y="43.5" width="4" height="4" fill="#4a90d8"/>
<text class="tb" transform="translate(520.2 64.5) scale(1.0 1)" text-anchor="middle">M5</text>
</g>
</g>
</svg></body></html>
